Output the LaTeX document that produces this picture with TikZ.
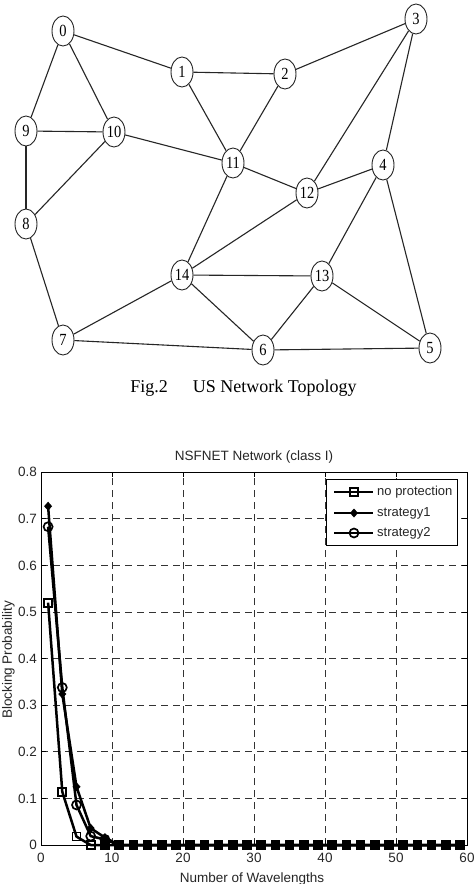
\documentclass[tikz,border=0pt]{standalone}
\usepackage{fontspec}
\setmainfont{Liberation Serif}
\newfontfamily\nodefont[FakeStretch=0.85]{Liberation Serif}
\newfontfamily\plotfont{Liberation Sans}
\usetikzlibrary{shapes.geometric}
\begin{document}
\begin{tikzpicture}[x=1pt,y=-1pt,
  gn/.style={draw=black!85,line width=0.9pt,ellipse,minimum width=22pt,minimum height=30pt,inner sep=0pt,fill=white,font=\nodefont\fontsize{17}{17}\selectfont},
  edge/.style={draw=black!85,line width=1.1pt},
  gridl/.style={draw=black!80,line width=0.9pt,dash pattern=on 7pt off 5pt},
  tl/.style={font=\plotfont\fontsize{13.5}{13.5}\selectfont,inner sep=0pt,text=black!85},
  lgt/.style={font=\plotfont\fontsize{13}{13}\selectfont,inner sep=0pt,text=black!85,anchor=west},
  dline/.style={line width=2.5pt,line join=round},
  mk/.style={line width=1.7pt}
]
\useasboundingbox (0,0) rectangle (474,884);
\fill[white] (0,0) rectangle (474,884);
% ---------- network ----------
\node[gn] (n0) at (63,31) {0};
\node[gn] (n1) at (182,72) {1};
\node[gn] (n2) at (285,74) {2};
\node[gn] (n3) at (416,19) {3};
\node[gn] (n9) at (26,131) {9};
\node[gn] (n10) at (114,132) {10};
\node[gn] (n11) at (233,163) {11};
\node[gn] (n4) at (383,165) {4};
\node[gn] (n12) at (307,193) {12};
\node[gn] (n8) at (26,224) {8};
\node[gn] (n14) at (182,275) {14};
\node[gn] (n13) at (322,276) {13};
\node[gn] (n7) at (63,340) {7};
\node[gn] (n6) at (263,350) {6};
\node[gn] (n5) at (430,348) {5};
\foreach \a/\b in {n0/n1,n0/n9,n0/n10,n1/n2,n1/n11,n2/n3,n2/n11,n3/n12,n3/n4,
  n9/n10,n9/n8,n10/n8,n10/n11,n11/n12,n11/n14,n12/n4,n12/n14,n4/n13,n4/n5,
  n8/n7,n14/n13,n14/n7,n14/n6,n13/n6,n13/n5,n7/n6,n6/n5}
  \draw[edge] (\a) -- (\b);
\node[inner sep=0pt,anchor=base] (cap) at (243.5,392) {\fontsize{18}{18}\selectfont Fig.2\hspace{25pt}US Network Topology};
% ---------- plot ----------
\node[tl,anchor=base] (ptitle) at (254,460) {NSFNET Network (class I)};
\node[tl,anchor=base] (xlab) at (252,882) {Number of Wavelengths};
\node[tl,anchor=base,rotate=90] (ylab) at (12,660) {Blocking Probability};
\begin{scope}[shift={(41,845)},x=7.1pt,y=466pt]
  \foreach \gx in {10,20,30,40,50} \draw[gridl] (\gx,0) -- (\gx,0.8);
  \foreach \gy in {1,...,7} \draw[gridl] (0,{\gy/10}) -- (60,{\gy/10});
  \foreach \gx in {0,10,...,60} {
    \draw[line width=0.9pt] (\gx,0) -- ++(0pt,5pt);
    \draw[line width=0.9pt] (\gx,0.8) -- ++(0pt,-5pt);
    \node[tl,anchor=base,yshift=-17pt] (xt\gx) at (\gx,0) {\gx};
  }
  \foreach \gy/\lab in {0/0,1/0.1,2/0.2,3/0.3,4/0.4,5/0.5,6/0.6,7/0.7,8/0.8} {
    \draw[line width=0.9pt] (0,{\gy/10}) -- ++(5pt,0pt);
    \draw[line width=0.9pt] (60,{\gy/10}) -- ++(-5pt,0pt);
    \node[tl,anchor=base east,xshift=-4pt,yshift=-4.7pt] (yt\gy) at (0,{\gy/10}) {\lab};
  }
  \draw[line width=1pt] (0,0) rectangle (60,0.8);
  % data: no protection
  \draw[dline] (1,0.52) -- (3,0.114) -- (5,0.018) -- (7,0) -- (59,0);
  \foreach \px/\py in {1/0.52,3/0.114,5/0.018,7/0}
    \draw[mk] (\px,\py) +(-4pt,-4pt) rectangle +(4pt,4pt);
  \foreach \px in {9,11,...,59}
    \fill (\px,0) +(-4.8pt,-4.8pt) rectangle +(4.8pt,4.8pt);
  % strategy1
  \draw[dline] (1,0.727) -- (3,0.324) -- (5,0.125) -- (7,0.036) -- (9,0.016) -- (11,0) -- (59,0);
  \foreach \px/\py in {1/0.727,3/0.324,5/0.125,7/0.036,9/0.016}
    \fill (\px,\py) +(0pt,4.5pt) -- +(4pt,0pt) -- +(0pt,-4.5pt) -- +(-4pt,0pt) -- cycle;
  % strategy2
  \draw[dline] (1,0.683) -- (3,0.338) -- (5,0.086) -- (7,0.019) -- (9,0.012) -- (11,0) -- (59,0);
  \foreach \px/\py in {1/0.683,3/0.338,5/0.086,7/0.019,9/0.012}
    \draw[mk] (\px,\py) circle[radius=4.5pt];
\end{scope}
% legend
\draw[line width=0.9pt,fill=white] (326,479) rectangle (457,545);
\draw[dline] (334,492) -- (373,492);
\draw[mk] (350,488) rectangle (358,496);
\node[lgt] (lg1) at (377,492) {no protection};
\draw[dline] (334,513) -- (373,513);
\fill (354,508.5) -- (358,513) -- (354,517.5) -- (350,513) -- cycle;
\node[lgt] (lg2) at (377,513) {strategy1};
\draw[dline] (334,533) -- (373,533);
\draw[mk] (354,533) circle[radius=4.5pt];
\node[lgt] (lg3) at (377,533) {strategy2};
\end{tikzpicture}
\end{document}
